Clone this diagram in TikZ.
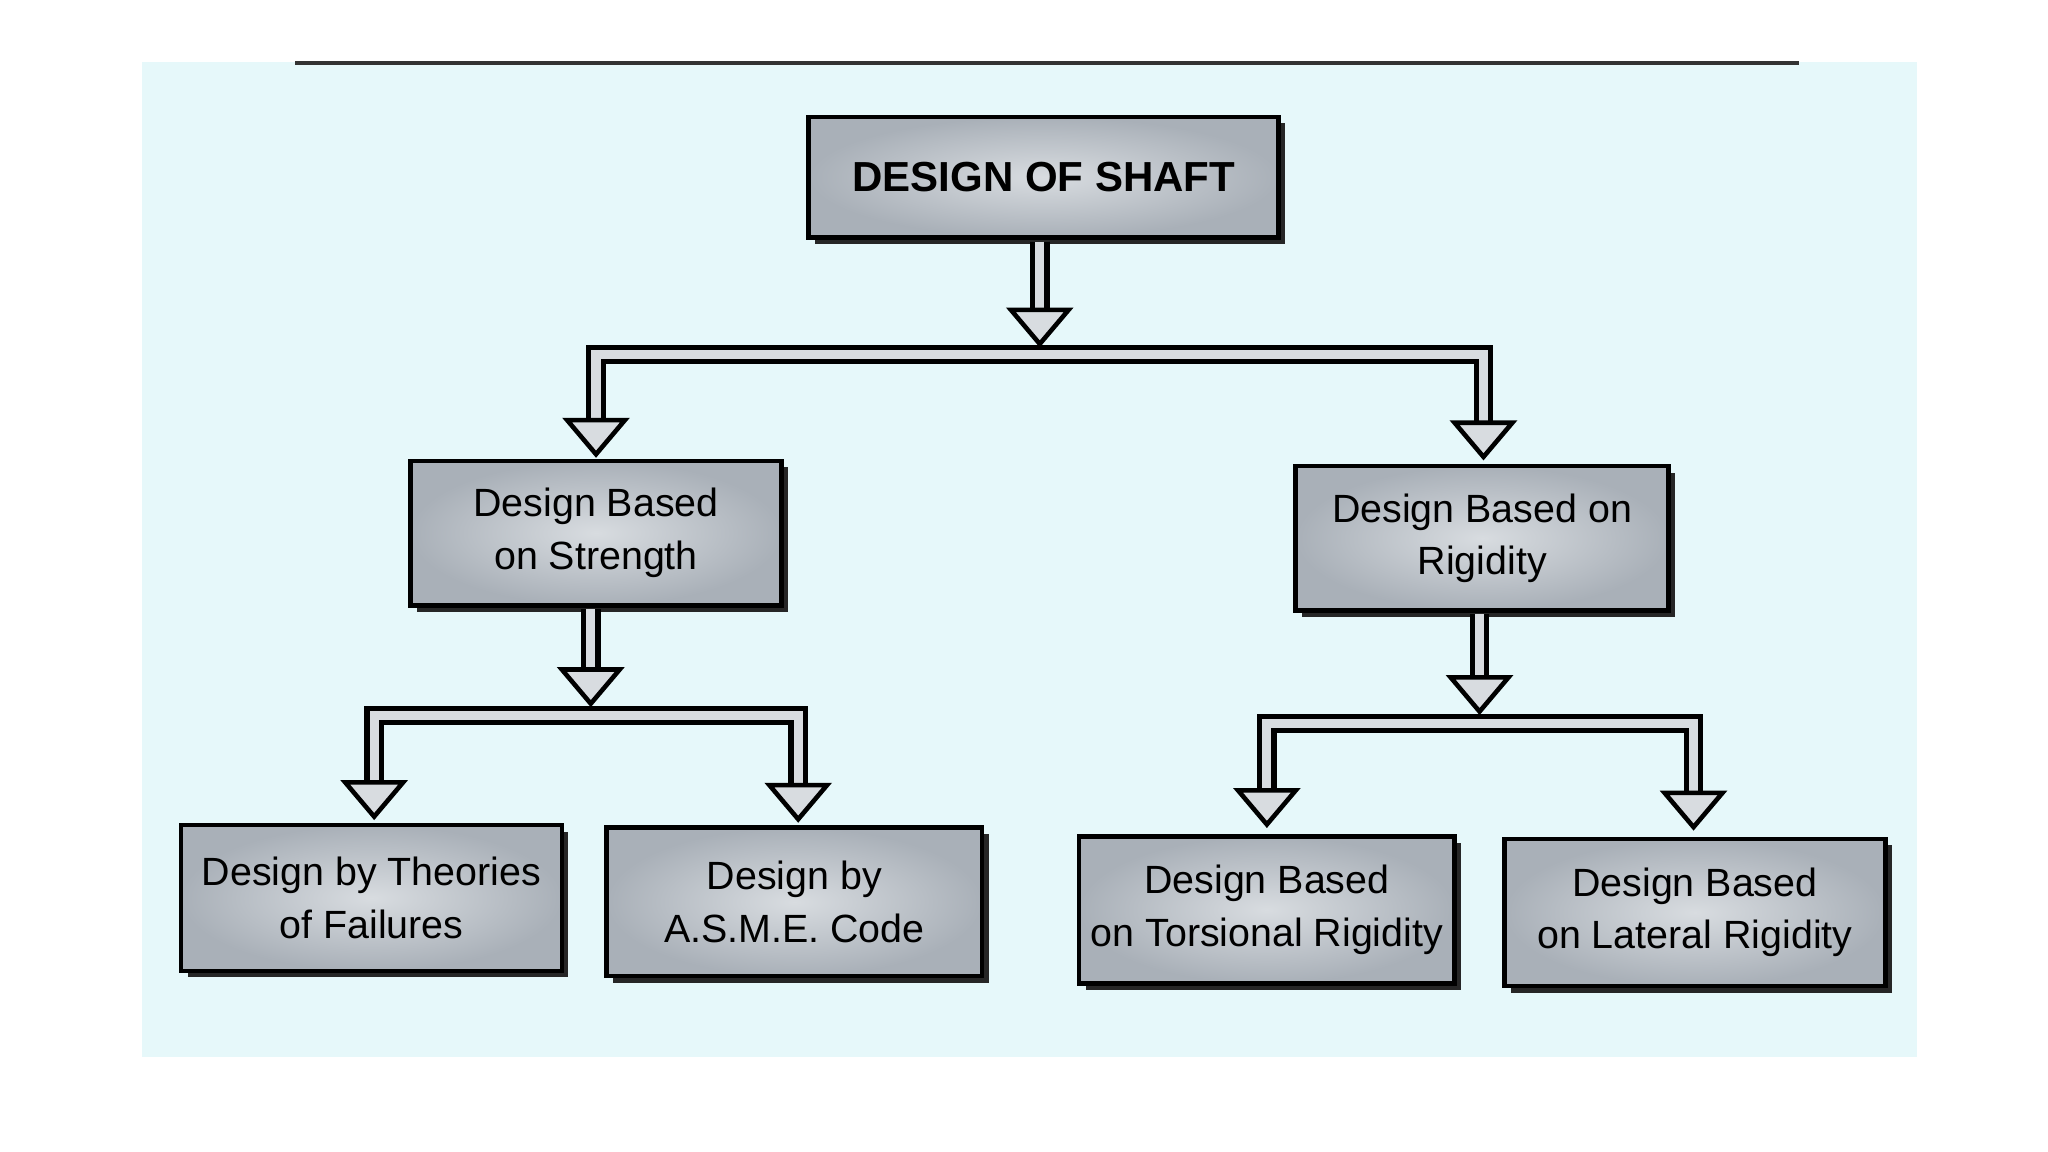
\documentclass[tikz,border=0pt]{standalone}
\usepackage{fontspec}
\setmainfont{Liberation Sans}
\usetikzlibrary{shadows}
\definecolor{bgc}{HTML}{E6F8FA}
\definecolor{boxa}{HTML}{D8DCE0}
\definecolor{boxb}{HTML}{A9B0B8}
\begin{document}
\begin{tikzpicture}[x=1pt,y=-1pt,
  box/.style={draw=black,line width=3.5pt,inner color=boxa,outer color=boxb,
    drop shadow={shadow xshift=5pt,shadow yshift=-5pt,fill=black!85,opacity=1},
    align=center,font=\fontsize{30}{40}\selectfont},
  shaft/.style={draw=black,line width=4pt,double=boxa,double distance=7pt},
  head/.style={draw=black,line width=3.5pt,fill=boxa,line join=miter}]
\useasboundingbox (0,0) rectangle (1560,877.5);
\fill[white] (0,0) rectangle (1560,877.5);
\fill[bgc] (108,47) rectangle (1460,805);
\draw[line width=3pt,black!80] (225,48) -- (1370,48);
\node[box,minimum width=358pt,minimum height=92pt,font=\bfseries\fontsize{32}{40}\selectfont] (top) at (795,135) {DESIGN OF SHAFT};
\node[box,minimum width=283pt,minimum height=110pt] (str) at (454,406) {Design Based\\on Strength};
\node[box,minimum width=284pt,minimum height=110pt] (rig) at (1129,410) {Design Based on\\Rigidity};
\node[box,minimum width=290pt,minimum height=111pt] (tf) at (283,684) {Design by Theories\\of Failures};
\node[box,minimum width=286pt,minimum height=113pt] (asme) at (605,687) {Design by\\A.S.M.E. Code};
\node[box,minimum width=286pt,minimum height=112pt] (tor) at (965,693) {Design Based\\on Torsional Rigidity};
\node[box,minimum width=290pt,minimum height=112pt] (lat) at (1291,695) {Design Based\\on Lateral Rigidity};
\newcommand{\harrow}[2]{\draw[head] (#1-22,#2) -- (#1+22,#2) -- (#1,#2+26) -- cycle;}
% level 1
\coordinate (b1l) at (454,270); \coordinate (b1r) at (1130,270);
\draw[shaft] (792,184) -- (792,238);
\draw[shaft] (454,320) |- (b1l) -- (b1r) -| (1130,322);
\harrow{792}{236}
\harrow{454}{320}
\harrow{1130}{322}
% level 2 left
\draw[shaft] (450,464) -- (450,512);
\draw[shaft] (285,598) |- (285,545) -- (608,545) -| (608,600);
\harrow{450}{510}
\harrow{285}{596}
\harrow{608}{598}
% level 2 right
\draw[shaft] (1127,468) -- (1127,518);
\draw[shaft] (965,604) |- (965,551) -- (1290,551) -| (1290,606);
\harrow{1127}{516}
\harrow{965}{602}
\harrow{1290}{604}
\end{tikzpicture}
\end{document}
